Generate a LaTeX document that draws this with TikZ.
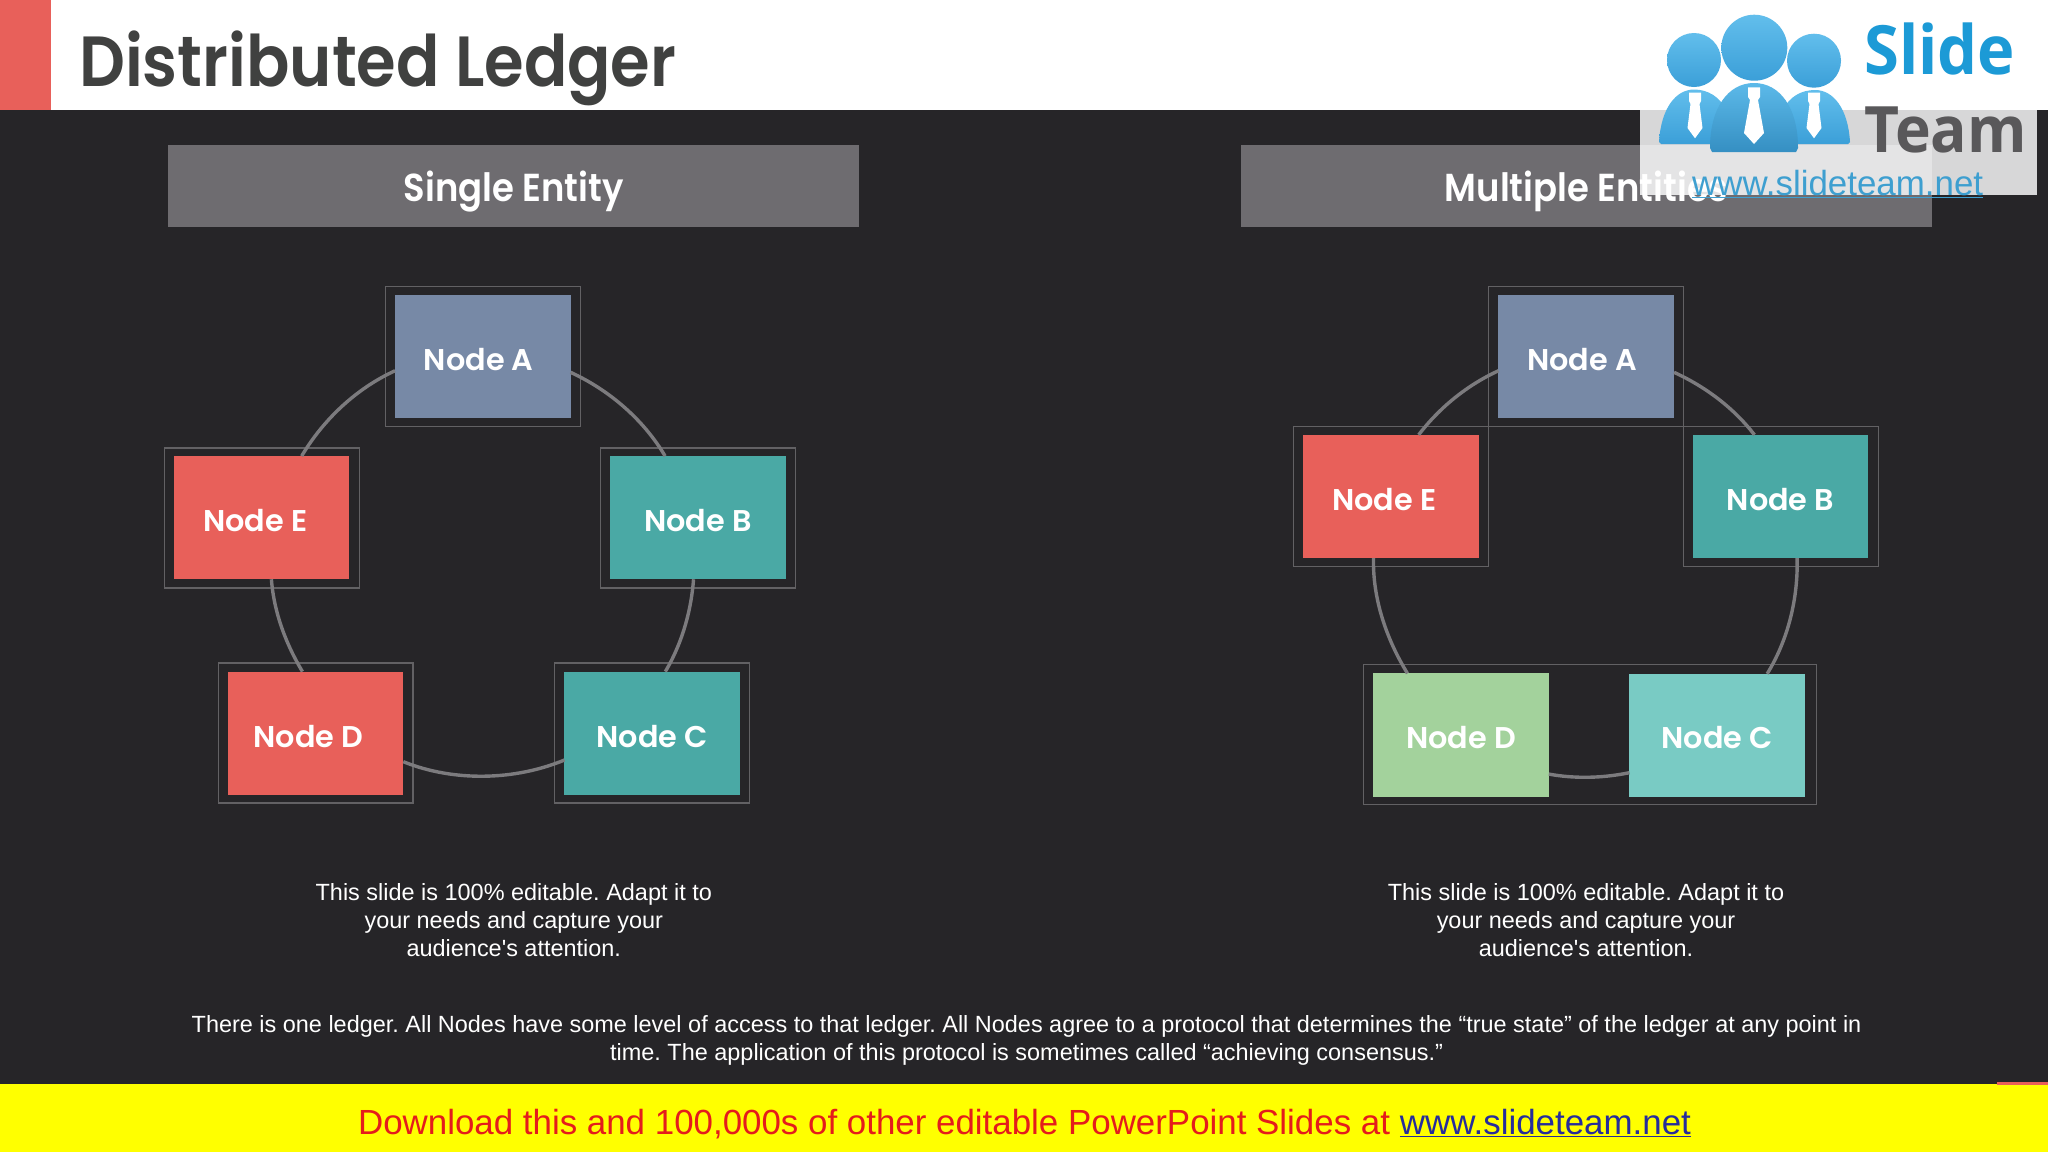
\documentclass[tikz,border=0pt]{standalone}
\usepackage{fontspec}
\setmainfont[Ligatures=TeXOff]{Liberation Sans}
\newfontfamily\headfont[FakeStretch=0.902]{Poppins SemiBold}
\newfontfamily\bannerfont[FakeStretch=0.908]{Poppins SemiBold}
\newfontfamily\boxfont[FakeStretch=1.01]{Poppins SemiBold}
\newfontfamily\slidefont[FakeStretch=0.93]{Open Sans Bold}
\newfontfamily\teamfont[FakeStretch=0.946]{Open Sans Bold}
\definecolor{slidebg}{HTML}{262528}
\definecolor{barred}{HTML}{E8605A}
\definecolor{bargrey}{HTML}{6E6C70}
\definecolor{titlegrey}{HTML}{404140}
\definecolor{slate}{HTML}{7789A6}
\definecolor{teal}{HTML}{4AA9A5}
\definecolor{sage}{HTML}{A3D29C}
\definecolor{aqua}{HTML}{79CBC4}
\definecolor{framegrey}{HTML}{626164}
\definecolor{arcgrey}{HTML}{7C7B7E}
\definecolor{logolight}{HTML}{62BEEC}
\definecolor{logoblue}{HTML}{3B9FD8}
\definecolor{logodeep}{HTML}{1C9AD6}
\definecolor{logoteam}{HTML}{59585A}
\definecolor{logourl}{HTML}{3E9FD0}
\definecolor{footyellow}{HTML}{FFFF00}
\definecolor{footred}{HTML}{E41C1C}
\definecolor{linkblue}{HTML}{262C9C}
\newcommand{\shifted}[3]{\raisebox{#2pt}[0pt][0pt]{\hspace*{#1pt}#3\hspace*{-#1pt}}}
\tikzset{
 box/.style={rectangle,outer sep=0pt,inner sep=0pt,minimum width=175.6pt,minimum height=123.2pt,
   text=white,font=\boxfont\fontsize{30}{36}\selectfont},
 frame/.style={draw=framegrey,line width=1.4pt,fill=none},
 link/.style={draw=arcgrey,line width=3.4pt,looseness=0.86},
 banner/.style={rectangle,fill=bargrey,outer sep=0pt,inner sep=0pt,minimum width=691pt,minimum height=82pt,
   text=white,font=\bannerfont\fontsize{39}{44}\selectfont},
 body/.style={text=white,align=center,inner sep=0pt,anchor=base,font=\frenchspacing\fontsize{23.45}{28.3}\selectfont},
 person/.style={top color=logolight,bottom color=logoblue,draw=none},
 tie/.style={fill=white,draw=none},
}
\begin{document}
\begin{tikzpicture}[x=1pt,y=-1pt]
\useasboundingbox (0,0) rectangle (2048,1152);
\fill[slidebg] (0,0) rectangle (2048,1152);
\fill[white] (0,0) rectangle (2048,110);
\fill[barred] (0,0) rectangle (51,110);
\node[anchor=base west,inner sep=0pt,text=titlegrey,font=\headfont\fontsize{71}{80}\selectfont] (title) at (79,86) {Distributed Ledger};
% banners
\node[banner] (bannerL) at (513.7,186.3) {\shifted{0}{-15.4}{Single Entity}};
\node[banner] (bannerR) at (1586.5,186.3) {\shifted{0}{-15}{Multiple Entities}};
% left frames
\draw[frame] (385.4,286.5) rectangle (580.6,426.4);
\draw[frame] (164.3,447.8) rectangle (359.4,587.8);
\draw[frame] (600.5,447.8) rectangle (795.7,587.8);
\draw[frame] (218.5,662.8) rectangle (413,803);
\draw[frame] (554.6,662.8) rectangle (749.7,803);
% left nodes
\node[box,fill=slate] (LA) at (482.8,356.85) {\shifted{-4}{-13.85}{Node A}};
\node[box,fill=barred] (LE) at (261.65,517.65) {\shifted{-6.5}{-13.65}{Node E}};
\node[box,fill=teal] (LB) at (697.85,517.65) {\shifted{0}{-13.65}{Node B}};
\node[box,fill=barred] (LD) at (315.5,733.15) {\shifted{-7}{-13.9}{Node D}};
\node[box,fill=teal] (LC) at (652.25,733.15) {\shifted{0}{-13.9}{Node C}};
\draw[link] (LA.189.6) to[out=204.6,in=59.3] (LE.57.3);
\draw[link] (LA.350.4) to[out=335.4,in=120.6] (LB.118.2);
\draw[link] (LE.279) to[out=274.3,in=120.8] (LD.102.9);
\draw[link] (LB.266.2) to[out=265.7,in=59.4] (LC.78.6);
\draw[link] (LD.342.4) to[out=338.1,in=202.5] (LC.197.6);
% right frames
\draw[frame] (1488.6,286.5) rectangle (1683.3,426.4);
\draw[frame] (1293.4,426.4) rectangle (1488.6,566.4);
\draw[frame] (1683.3,426.4) rectangle (1878.4,566.4);
\draw[frame] (1363.2,664.2) rectangle (1816.4,804.2);
% right nodes
\node[box,fill=slate] (RA) at (1586.25,356.85) {\shifted{-4}{-13.85}{Node A}};
\node[box,fill=barred] (RE) at (1391.2,496.45) {\shifted{-7}{-13.85}{Node E}};
\node[box,fill=teal] (RB) at (1780.6,496.45) {\shifted{0}{-13.85}{Node B}};
\node[box,fill=sage] (RD) at (1461,735) {\shifted{0}{-13.8}{Node D}};
\node[box,fill=aqua] (RC) at (1717.25,735.4) {\shifted{0}{-13.4}{Node C}};
\draw[link] (RA.189.6) to[out=204.6,in=52.6] (RE.66.2);
\draw[link] (RA.350.4) to[out=335.4,in=127.6] (RB.113.8);
\draw[link] (RE.254.8) to[out=268.5,in=121.5] (RD.131.2);
\draw[link] (RB.285.5) to[out=271.5,in=58.4] (RC.51.3);
\draw[link] (RD.336.8) to[out=349.8,in=191.6] (RC.203);
% captions
\node[body] (capL) at (513.8,956.7) {This slide is 100\% editable. Adapt it to\\your needs and capture your\\audience's attention.};
\node[body] (capR) at (1586,956.7) {This slide is 100\% editable. Adapt it to\\your needs and capture your\\audience's attention.};
\node[body] (note) at (1026.6,1060.5) {There is one ledger. All Nodes have some level of access to that ledger. All Nodes agree to a protocol that determines the “true state” of the ledger at any point in\\time. The application of this protocol is sometimes called “achieving consensus.”};
% footer
\fill[footyellow] (0,1083.5) rectangle (2048,1152);
\fill[barred] (1997,1082) rectangle (2048,1084.5);
\node[anchor=base,inner sep=0pt,text=footred,font=\frenchspacing\fontsize{34.9}{40}\selectfont] (foot) at (1024.5,1134) {Download this and 100,000s of other editable PowerPoint Slides at \textcolor{linkblue}{\underline{www.slideteam.net}}};
% logo
\fill[white,opacity=0.82] (1640,110) rectangle (2037,195);
\shade[person] (1694,60) circle[radius=27];
\shade[person] (1814,60.7) circle[radius=27];
\shade[person] (1754.3,47.7) circle[radius=33];
\shade[person] (1659,142) .. controls (1661,108) and (1676,89.5) .. (1694,89.5) .. controls (1708,89.5) and (1720,97) .. (1726,110) -- (1726,144) -- (1661,144) -- cycle;
\shade[person] (1850,142) .. controls (1848,108) and (1833,90) .. (1815,90) .. controls (1801,90) and (1789,97) .. (1783,110) -- (1783,144) -- (1848,144) -- cycle;
\shade[person,top color=logolight!85!logoblue,bottom color=logoblue!90!black] (1710,148) .. controls (1710,108) and (1728,83) .. (1754,83) .. controls (1780,83) and (1798,108) .. (1798,148) -- (1796,152) -- (1712,152) -- cycle;
\fill[tie] (1689,92.7) -- (1701,92.7) -- (1701,101) -- (1699.5,104) -- (1702.5,128) -- (1695,138.3) -- (1687.5,128) -- (1690.5,104) -- (1689,101) -- cycle;
\fill[tie] (1808,92.7) -- (1820,92.7) -- (1820,101) -- (1818.5,104) -- (1821.5,128) -- (1814,138.3) -- (1806.5,128) -- (1809.5,104) -- (1808,101) -- cycle;
\fill[tie] (1748,87.3) -- (1760,87.3) -- (1760,97) -- (1758,100) -- (1764,133) -- (1754,144) -- (1744,133) -- (1750,100) -- (1748,97) -- cycle;
\node[anchor=base west,inner sep=0pt,text=logodeep,font=\slidefont\fontsize{68}{70}\selectfont] (logoS) at (1864,74) {Slide};
\node[anchor=base west,inner sep=0pt,text=logoteam,font=\teamfont\fontsize{64}{70}\selectfont] (logoT) at (1864,152) {Team};
\node[anchor=base west,inner sep=0pt,text=logourl,font=\fontsize{34.9}{36}\selectfont] (logoU) at (1692,195.5) {\underline{www.slideteam.net}};
\end{tikzpicture}
\end{document}
